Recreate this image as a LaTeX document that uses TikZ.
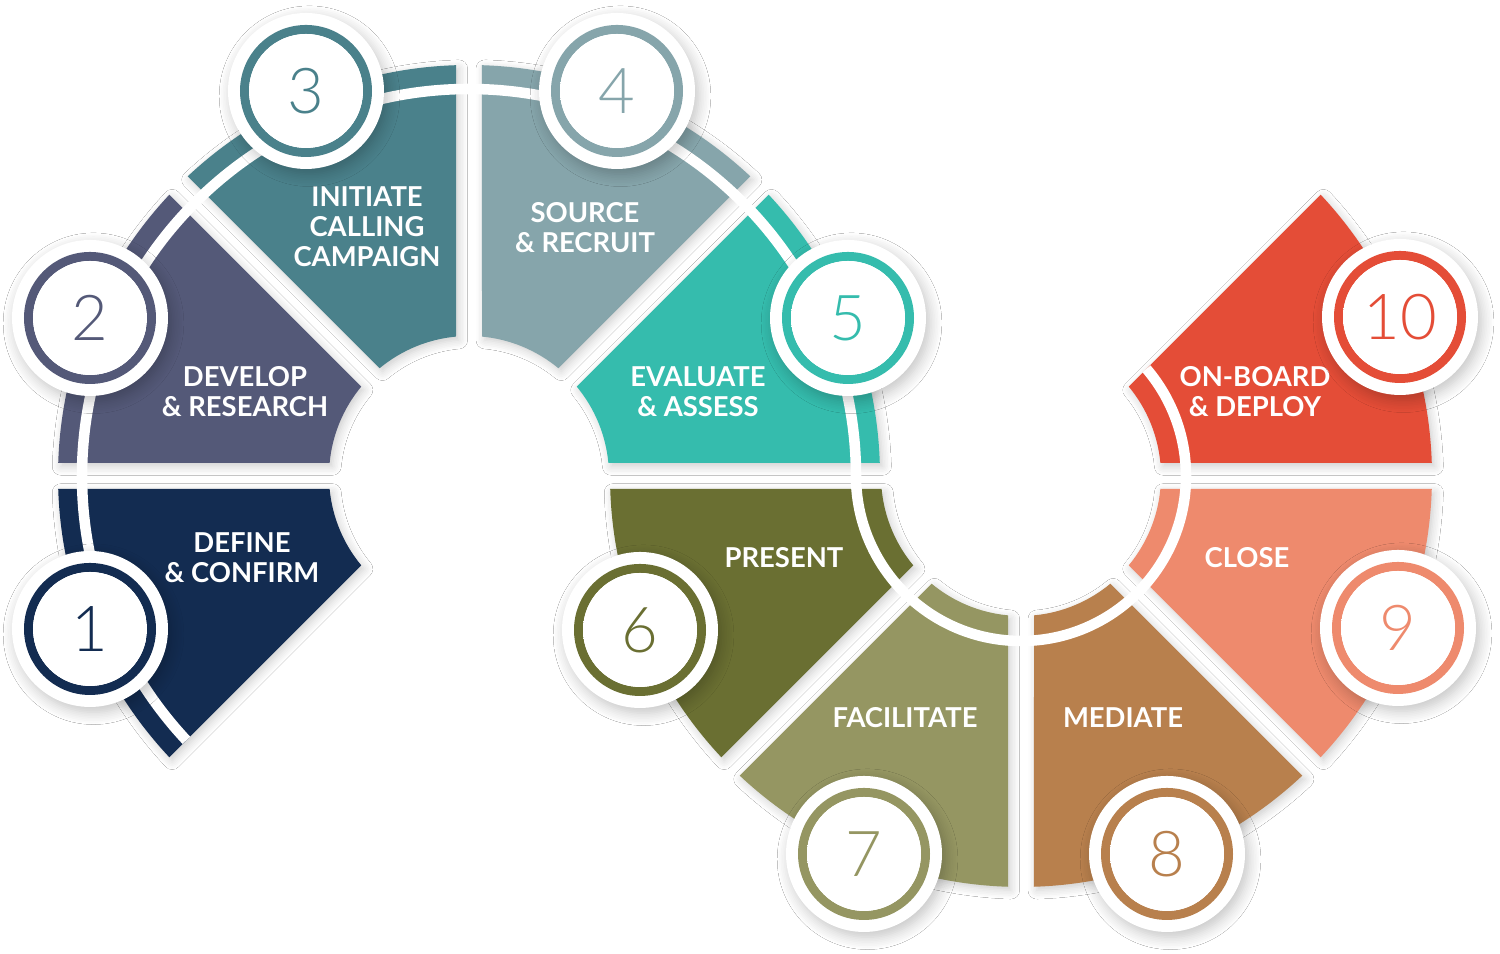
\documentclass[tikz,border=0pt]{standalone}
\usepackage{fontspec}
\setmainfont{Lato}
\newfontfamily\numfont{Lato Light}
\usetikzlibrary{calc,shadows.blur}
\definecolor{segA}{HTML}{132C51}
\definecolor{segB}{HTML}{545978}
\definecolor{segC}{HTML}{4A818B}
\definecolor{segD}{HTML}{86A5AB}
\definecolor{segE}{HTML}{35BCAD}
\definecolor{segF}{HTML}{6A6F32}
\definecolor{segG}{HTML}{959662}
\definecolor{segH}{HTML}{B8804D}
\definecolor{segI}{HTML}{EE8A6D}
\definecolor{segJ}{HTML}{E44D37}
\definecolor{haze}{HTML}{7E89C0}
\definecolor{glow}{HTML}{D3E1F4}
\pgfdeclareradialshading{badgeglow}{\pgfpoint{0bp}{0bp}}{color(0bp)=(white); color(33bp)=(white); color(50bp)=(glow)}
\tikzset{
  seg/.style={blur shadow={shadow blur steps=6,shadow xshift=0.8pt,shadow yshift=-1pt,shadow blur radius=2.5pt,shadow opacity=20,fill=haze},fill=#1},
  stripe/.style={draw=white,line width=3pt},
  stagelbl/.style={text=white,align=center,inner sep=0pt,font=\fontsize{7.8}{8.5}\selectfont\bfseries},
  badge/.style={circle,blur shadow={shadow blur steps=8,shadow xshift=1pt,shadow yshift=-1.5pt,shadow blur radius=3.5pt,shadow opacity=24,fill=haze},fill=white,minimum size=15.6mm,inner sep=0pt},
  ring/.style={draw=#1,line width=0.9mm},
  num/.style={inner sep=0pt,font=\numfont\fontsize{18}{18}\selectfont},
}

\begin{document}
\begin{tikzpicture}
    \useasboundingbox (0,0) rectangle (15,9.54);
    \fill[white] (0,0) rectangle (15,9.54);
    \coordinate (c1) at (4.69,4.78);
    \coordinate (c2) at (10.21,4.78);
    % the ten stages, five round each centre
    \foreach \i/\cen/\a/\col/\pos/\txt in {
      1/c1/180/segA/{2.42,3.96}/{DEFINE\\\& CONFIRM},
      2/c1/135/segB/{2.45,5.62}/{DEVELOP\\\& RESEARCH},
      3/c1/90/segC/{3.67,7.27}/{INITIATE\\CALLING\\CAMPAIGN},
      4/c1/45/segD/{5.85,7.26}/{SOURCE\\\& RECRUIT},
      5/c1/0/segE/{6.98,5.62}/{EVALUATE\\\& ASSESS},
      6/c2/180/segF/{7.84,3.96}/{PRESENT},
      7/c2/225/segG/{9.05,2.36}/{FACILITATE},
      8/c2/270/segH/{11.23,2.36}/{MEDIATE},
      9/c2/315/segI/{12.47,3.96}/{CLOSE},
      10/c2/0/segJ/{12.55,5.62}/{ON-BOARD\\\& DEPLOY}}
    {
      \path[seg=\col] ($(\cen)+(\a+1.81:4.11)$) arc[start angle=\a+1.81, delta angle=41.38, radius=4.11]
        -- ($(\cen)+(\a+39.67:1.40)$) arc[start angle=\a+39.67, delta angle=-34.34, radius=1.40] -- cycle;
      \node[stagelbl] (l\i) at (\pos) {\txt};
    }
    % white line running through all stages
    \draw[stripe] ($(c1)+(223.07:3.87)$) arc[start angle=223.07, end angle=0, radius=3.87];
    \draw[stripe] ($(c2)+(180:1.65)$) arc[start angle=180, end angle=400.5, radius=1.65];
    % number badges
    \foreach \i/\pos/\col in {1/{0.90,3.25}/segA, 2/{0.90,6.36}/segB, 3/{3.06,8.63}/segC,
      4/{6.17,8.63}/segD, 5/{8.48,6.36}/segE, 6/{6.40,3.24}/segF, 7/{8.64,1.00}/segG,
      8/{11.67,1.00}/segH, 9/{13.98,3.26}/segI, 10/{14.00,6.37}/segJ}
    {
      \node[badge] (n\i) at (\pos) {};
      \draw[ring=\col] (n\i.center) circle[radius=6.15mm];
      \shade[shading=badgeglow] (n\i.center) circle[radius=5.7mm];
      \node[num,text=\col] at (n\i.center) {\i};
    }
\end{tikzpicture}
\end{document}
